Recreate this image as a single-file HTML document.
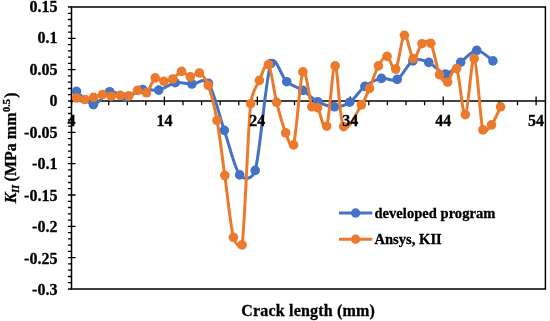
<!DOCTYPE html>
<html><head><meta charset="utf-8"><title>Chart</title>
<style>
html,body{margin:0;padding:0;background:#fff;}
body{width:550px;height:321px;overflow:hidden;}
svg{display:block;}
text{font-family:"Liberation Serif","Times New Roman",serif;font-weight:bold;fill:#000;stroke:#000;stroke-width:0.3px;}
.t{font-size:16px;}
.lg{font-size:14.5px;}
</style></head><body>
<svg width="550" height="321" viewBox="0 0 550 321">
<rect width="550" height="321" fill="#fff"/>
<g stroke="#000" stroke-width="1.5" fill="none" stroke-linecap="square">
<rect x="71.5" y="7.0" width="473.9" height="282.0"/>
<line x1="71.5" y1="101.0" x2="545.4" y2="101.0"/>
</g>
<g stroke="#000" stroke-width="1.3" fill="none">
<path d="M67.9,7.0H71.5M67.9,13.3H71.5M67.9,19.5H71.5M67.9,25.8H71.5M67.9,32.1H71.5M67.9,38.3H75.5M67.9,44.6H71.5M67.9,50.9H71.5M67.9,57.1H71.5M67.9,63.4H71.5M67.9,69.7H75.5M67.9,75.9H71.5M67.9,82.2H71.5M67.9,88.5H71.5M67.9,94.7H71.5M67.9,101.0H75.5M67.9,107.3H71.5M67.9,113.5H71.5M67.9,119.8H71.5M67.9,126.1H71.5M67.9,132.3H75.5M67.9,138.6H71.5M67.9,144.9H71.5M67.9,151.1H71.5M67.9,157.4H71.5M67.9,163.7H75.5M67.9,169.9H71.5M67.9,176.2H71.5M67.9,182.5H71.5M67.9,188.7H71.5M67.9,195.0H75.5M67.9,201.3H71.5M67.9,207.5H71.5M67.9,213.8H71.5M67.9,220.1H71.5M67.9,226.3H75.5M67.9,232.6H71.5M67.9,238.9H71.5M67.9,245.1H71.5M67.9,251.4H71.5M67.9,257.7H75.5M67.9,263.9H71.5M67.9,270.2H71.5M67.9,276.5H71.5M67.9,282.7H71.5M67.9,289.0H71.5"/>
<path d="M71.5,96.4V105.2M90.1,101.0V105.2M108.7,101.0V105.2M127.3,101.0V105.2M145.8,101.0V105.2M164.4,96.4V105.2M183.0,101.0V105.2M201.6,101.0V105.2M220.2,101.0V105.2M238.8,101.0V105.2M257.3,96.4V105.2M275.9,101.0V105.2M294.5,101.0V105.2M313.1,101.0V105.2M331.7,101.0V105.2M350.3,96.4V105.2M368.8,101.0V105.2M387.4,101.0V105.2M406.0,101.0V105.2M424.6,101.0V105.2M443.2,96.4V105.2M461.8,101.0V105.2M480.4,101.0V105.2M498.9,101.0V105.2M517.5,101.0V105.2M536.1,96.4V105.2"/>
</g>
<g transform="translate(0.2,0.4)">
<path d="M76.3,90.9C79.1,93.1 87.7,104.1 93.2,104.2C98.7,104.3 104.1,92.6 109.5,91.3C114.9,90.0 120.3,97.0 125.8,96.6C131.3,96.2 136.9,90.2 142.3,89.1C147.8,87.9 153.1,90.8 158.5,89.7C163.9,88.6 169.5,83.3 175.0,82.3C180.5,81.3 186.1,83.5 191.7,83.6C197.2,83.7 203.5,76.2 208.3,83.0C213.7,90.7 218.9,114.8 224.1,130.0C229.3,145.2 234.3,167.8 239.5,174.5C244.4,180.9 252.8,177.8 255.0,170.0C260.2,151.4 265.4,77.9 270.6,63.1C274.6,51.7 281.1,76.8 286.5,81.3C291.9,85.8 297.5,86.7 302.7,90.0C307.9,93.3 312.2,98.6 317.5,101.3C322.8,104.0 329.0,106.3 334.3,106.4C339.6,106.5 344.4,105.2 349.5,101.8C354.6,98.4 359.4,90.0 364.7,86.0C370.0,82.0 375.8,79.2 381.2,78.0C386.6,76.8 391.8,81.9 397.0,79.0C402.2,76.1 407.4,63.3 412.7,60.5C417.9,57.7 423.1,59.8 428.5,62.0C433.9,64.2 440.0,73.6 445.3,73.6C450.6,73.6 455.3,65.7 460.5,61.8C465.7,57.9 471.1,50.2 476.5,50.0C481.9,49.8 490.0,58.8 492.7,60.5" fill="none" stroke="#4472c4" stroke-width="3.0" stroke-linejoin="round" stroke-linecap="round"/>
<g fill="#4472c4"><circle cx="76.3" cy="90.9" r="4.8"/><circle cx="93.2" cy="104.2" r="4.8"/><circle cx="109.5" cy="91.3" r="4.8"/><circle cx="125.8" cy="96.6" r="4.8"/><circle cx="142.3" cy="89.1" r="4.8"/><circle cx="158.5" cy="89.7" r="4.8"/><circle cx="175" cy="82.3" r="4.8"/><circle cx="191.7" cy="83.6" r="4.8"/><circle cx="208.3" cy="83" r="4.8"/><circle cx="224.1" cy="130" r="4.8"/><circle cx="239.5" cy="174.5" r="4.8"/><circle cx="255" cy="170" r="4.8"/><circle cx="270.6" cy="63.1" r="4.8"/><circle cx="286.5" cy="81.3" r="4.8"/><circle cx="302.7" cy="90" r="4.8"/><circle cx="317.5" cy="101.3" r="4.8"/><circle cx="334.3" cy="106.4" r="4.8"/><circle cx="349.5" cy="101.8" r="4.8"/><circle cx="364.7" cy="86" r="4.8"/><circle cx="381.2" cy="78" r="4.8"/><circle cx="397" cy="79" r="4.8"/><circle cx="412.7" cy="60.5" r="4.8"/><circle cx="428.5" cy="62" r="4.8"/><circle cx="445.3" cy="73.6" r="4.8"/><circle cx="460.5" cy="61.8" r="4.8"/><circle cx="476.5" cy="50" r="4.8"/><circle cx="492.7" cy="60.5" r="4.8"/></g>
<path d="M76.3,97.6C77.7,97.8 81.7,99.2 84.6,99.1C87.5,99.0 90.5,97.7 93.5,96.9C96.5,96.1 99.4,94.4 102.3,94.2C105.2,94.0 108.1,95.7 111.0,95.8C113.9,95.9 117.0,95.0 119.9,94.9C122.8,94.9 125.7,96.3 128.6,95.5C131.5,94.7 134.4,90.5 137.4,90.0C140.4,89.5 143.4,94.5 146.3,92.4C149.2,90.3 152.1,79.4 155.0,77.5C157.9,75.6 160.8,80.6 163.7,80.8C166.6,81.0 169.6,80.2 172.6,78.6C175.6,77.0 178.5,71.3 181.4,71.0C184.3,70.7 187.1,76.2 190.1,76.5C193.1,76.8 196.2,71.2 199.2,72.6C202.2,74.0 205.4,77.8 208.1,85.0C211.0,92.9 214.1,105.0 216.8,120.0C219.6,135.0 221.9,155.6 224.6,175.1C227.3,194.6 230.3,225.3 233.2,236.9C234.6,242.5 241.2,250.2 241.9,244.5C244.8,222.2 247.6,130.7 250.5,103.3C251.8,90.9 256.2,86.5 259.2,80.0C262.2,73.5 265.4,60.6 268.3,64.2C271.2,67.9 273.5,90.5 276.4,101.9C279.3,113.3 282.7,125.4 285.5,132.5C288.2,139.2 291.5,151.4 293.4,144.5C296.3,134.3 299.7,77.8 302.7,71.5C305.7,65.2 309.2,100.4 311.6,106.4C312.7,109.1 315.6,105.0 317.4,107.3C319.9,110.5 323.6,132.8 326.5,125.8C329.4,118.8 332.1,65.4 334.9,65.5C337.7,65.6 339.0,119.7 343.4,126.2C347.8,132.7 356.9,110.9 361.2,104.5C365.5,98.1 366.5,94.5 369.3,88.0C372.1,81.5 375.3,70.8 378.2,65.5C381.1,60.2 384.0,55.5 386.9,56.0C389.8,56.5 392.6,72.2 395.5,68.7C398.4,65.2 401.3,36.6 404.2,34.9C407.1,33.1 410.2,56.8 413.1,58.2C416.0,59.6 418.9,45.8 421.8,43.3C424.7,40.8 428.4,39.1 430.6,42.9C433.5,48.0 436.5,67.8 439.3,74.2C441.5,79.2 444.5,82.6 447.4,81.6C450.2,80.6 453.4,62.8 456.4,68.2C459.3,73.6 462.2,115.9 465.1,114.2C468.0,112.5 471.1,55.7 474.0,58.2C476.9,60.8 479.8,118.5 482.7,129.5C484.0,134.3 488.4,128.3 491.3,124.5C494.2,120.7 498.9,109.4 500.4,106.4" fill="none" stroke="#ec7a2c" stroke-width="3.0" stroke-linejoin="round" stroke-linecap="round"/>
<g fill="#ec7a2c"><circle cx="76.3" cy="97.6" r="4.8"/><circle cx="84.6" cy="99.1" r="4.8"/><circle cx="93.5" cy="96.9" r="4.8"/><circle cx="102.3" cy="94.2" r="4.8"/><circle cx="111" cy="95.8" r="4.8"/><circle cx="119.9" cy="94.9" r="4.8"/><circle cx="128.6" cy="95.5" r="4.8"/><circle cx="137.4" cy="90" r="4.8"/><circle cx="146.3" cy="92.4" r="4.8"/><circle cx="155" cy="77.5" r="4.8"/><circle cx="163.7" cy="80.8" r="4.8"/><circle cx="172.6" cy="78.6" r="4.8"/><circle cx="181.4" cy="71" r="4.8"/><circle cx="190.1" cy="76.5" r="4.8"/><circle cx="199.2" cy="72.6" r="4.8"/><circle cx="208.1" cy="85" r="4.8"/><circle cx="216.8" cy="120" r="4.8"/><circle cx="224.6" cy="175.1" r="4.8"/><circle cx="233.2" cy="236.9" r="4.8"/><circle cx="241.9" cy="244.5" r="4.8"/><circle cx="250.5" cy="103.3" r="4.8"/><circle cx="259.2" cy="80" r="4.8"/><circle cx="268.3" cy="64.2" r="4.8"/><circle cx="276.4" cy="101.9" r="4.8"/><circle cx="285.5" cy="132.5" r="4.8"/><circle cx="293.4" cy="144.5" r="4.8"/><circle cx="302.7" cy="71.5" r="4.8"/><circle cx="311.6" cy="106.4" r="4.8"/><circle cx="317.4" cy="107.3" r="4.8"/><circle cx="326.5" cy="125.8" r="4.8"/><circle cx="334.9" cy="65.5" r="4.8"/><circle cx="343.4" cy="126.2" r="4.8"/><circle cx="361.2" cy="104.5" r="4.8"/><circle cx="369.3" cy="88" r="4.8"/><circle cx="378.2" cy="65.5" r="4.8"/><circle cx="386.9" cy="56" r="4.8"/><circle cx="395.5" cy="68.7" r="4.8"/><circle cx="404.2" cy="34.9" r="4.8"/><circle cx="413.1" cy="58.2" r="4.8"/><circle cx="421.8" cy="43.3" r="4.8"/><circle cx="430.6" cy="42.9" r="4.8"/><circle cx="439.3" cy="74.2" r="4.8"/><circle cx="447.4" cy="81.6" r="4.8"/><circle cx="456.4" cy="68.2" r="4.8"/><circle cx="465.1" cy="114.2" r="4.8"/><circle cx="474" cy="58.2" r="4.8"/><circle cx="482.7" cy="129.5" r="4.8"/><circle cx="491.3" cy="124.5" r="4.8"/><circle cx="500.4" cy="106.4" r="4.8"/></g>
</g>
<g class="t" text-anchor="end">
<text x="57.4" y="11.9">0.15</text>
<text x="57.4" y="43.4">0.1</text>
<text x="57.4" y="74.8">0.05</text>
<text x="57.4" y="106.3">0</text>
<text x="57.4" y="137.7">-0.05</text>
<text x="57.4" y="169.2">-0.1</text>
<text x="57.4" y="200.6">-0.15</text>
<text x="57.4" y="232.1">-0.2</text>
<text x="57.4" y="263.5">-0.25</text>
<text x="57.4" y="295.0">-0.3</text>
</g>
<g class="t" text-anchor="middle">
<text x="71.5" y="125.5">4</text>
<text x="164.4" y="125.5">14</text>
<text x="257.3" y="125.5">24</text>
<text x="350.3" y="125.5">34</text>
<text x="443.2" y="125.5">44</text>
<text x="536.1" y="125.5">54</text>
</g>
<text class="t" x="308.2" y="315.8" text-anchor="middle" letter-spacing="0.18">Crack length (mm)</text>
<text class="t" transform="translate(15.7,203.3) rotate(-90)"><tspan font-style="italic">K</tspan><tspan font-style="italic" font-size="9.8px" dy="3.6">II</tspan><tspan dy="-3.6" dx="-0.4"> (MPa mm</tspan><tspan font-size="10.3px" dy="-5.3" dx="0.6">0.5</tspan><tspan dy="5.3" dx="1.3">)</tspan></text>
<line x1="339" y1="213.0" x2="372.3" y2="213.0" stroke="#4472c4" stroke-width="2.9"/>
<circle cx="355.6" cy="213.0" r="4.7" fill="#4472c4"/>
<text class="lg" x="374.5" y="217.8" letter-spacing="0.04">developed program</text>
<line x1="339" y1="239.2" x2="372.3" y2="239.2" stroke="#ec7a2c" stroke-width="2.9"/>
<circle cx="355.6" cy="239.2" r="4.7" fill="#ec7a2c"/>
<text class="lg" x="374.5" y="244.0" letter-spacing="0.04">Ansys, KII</text>
</svg></body></html>
